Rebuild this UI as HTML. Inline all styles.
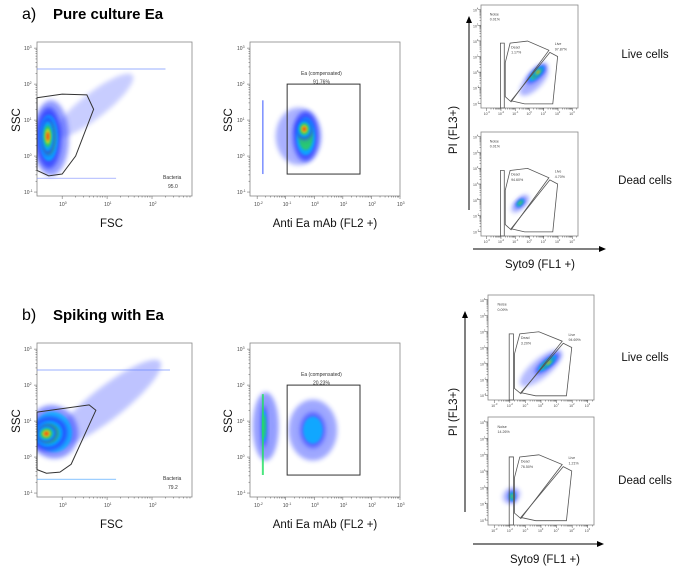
<!DOCTYPE html>
<html><head><meta charset="utf-8">
<style>
html,body{margin:0;padding:0;background:#fff;}
svg{display:block;font-family:"Liberation Sans",sans-serif;}
.ax{font-size:11.5px;fill:#111;}
.gl{font-size:5px;fill:#333;}
.gs{font-size:3.6px;fill:#444;}
</style></head>
<body>
<svg id="fig" width="685" height="568" viewBox="0 0 685 568" xmlns="http://www.w3.org/2000/svg">
<defs>
<filter id="bl" x="-50%" y="-50%" width="200%" height="200%"><feGaussianBlur stdDeviation="1.4"/></filter>
<filter id="bl2" x="-50%" y="-50%" width="200%" height="200%"><feGaussianBlur stdDeviation="2.5"/></filter>
<marker id="arr" markerWidth="8" markerHeight="8" refX="6" refY="4" orient="auto"><path d="M0,1 L7,4 L0,7 z" fill="#000"/></marker>
</defs>
<g><text x="22" y="19" font-size="16">a)</text><text x="53" y="19" font-size="15" font-weight="bold">Pure culture Ea</text></g>
<g><text x="22" y="320" font-size="16">b)</text><text x="53" y="320" font-size="15" font-weight="bold">Spiking with Ea</text></g>
<g id="layer"></g>
</svg>
<script>
// ---- data (log10 units) ----
// clusters: [cx, cy, rxDecades, ryDecades, angleDeg, level(1-5), outerOpacity]
const a1Clusters=[[0.7,1.4,1.1,0.35,-38,1,0.25],[-0.25,0.5,0.4,1.05,0,1,0.5],[-0.3,0.5,0.28,0.85,0,3,0.8],[-0.32,0.55,0.16,0.55,0,5,0.8]];
const a2Clusters=[[-0.55,0.55,0.8,0.8,0,1,0.4],[-0.3,0.55,0.45,0.7,0,3,0.8],[-0.35,0.75,0.3,0.3,0,5,0.8]];
const b1Clusters=[[1.0,1.5,1.5,0.45,-38,1,0.3],[-0.2,0.7,0.55,0.75,-20,2,0.55],[-0.3,0.65,0.42,0.48,-20,3,0.8],[-0.35,0.65,0.24,0.26,-15,5,0.8]];
const b2Clusters=[[-1.7,0.85,0.45,0.95,0,1,0.5],[-0.05,0.75,0.85,0.85,0,1,0.45],[-0.05,0.75,0.45,0.5,0,2,0.6],[-1.75,0.85,0.1,0.6,0,3,0.8]];
const ra1Clusters=[[0.3,-0.6,1.3,0.5,-45,1,0.4],[0.5,-0.1,0.95,0.32,-45,3,0.8],[0.6,0.0,0.45,0.18,-45,5,0.8]];
const ra2Clusters=[[-0.65,-0.25,0.8,0.32,-45,1,0.4],[-0.65,-0.2,0.45,0.2,-45,3,0.8],[-0.65,-0.2,0.18,0.1,-45,5,0.8]];
const rb1Clusters=[[0.0,-0.3,1.7,0.6,-40,1,0.35],[0.4,0.0,1.0,0.3,-40,3,0.8],[0.5,0.05,0.45,0.16,-40,5,0.8]];
const rb2Clusters=[[-1.9,-0.5,0.6,0.45,-30,1,0.35],[-1.85,-0.55,0.25,0.38,0,3,0.8],[-1.85,-0.55,0.1,0.18,0,5,0.8]];
const leftXTicks=[0,1,2]; const leftYTicks=[-1,0,1,2,3];
const midXTicks=[-2,-1,0,1,2,3];
const rightXTicks=[-3,-2,-1,0,1,2,3]; const rightYTicks=[-2,-1,0,1,2,3,4];
const gateA1=[[-0.56,1.62],[0.0,1.72],[0.55,1.7],[0.7,1.3],[0.3,0.0],[0.0,-0.5],[-0.3,-0.55],[-0.56,-0.4]];
const gateB1=[[-0.56,1.25],[0.6,1.45],[0.75,1.3],[0.2,-0.2],[-0.05,-0.42],[-0.35,-0.45],[-0.56,-0.35]];
const gateA2=[-0.95,2.0,1.6,-0.5]; const gateB2=[-0.95,2.0,1.6,-0.5];
// right-panel gates (relative box fractions: shape geometry)
const noiseGate=[[0.20,0.37],[0.24,0.37],[0.24,1.0],[0.20,1.0]];
const deadGate=[[0.25,0.56],[0.30,0.37],[0.48,0.35],[0.70,0.44],[0.31,0.94],[0.25,0.89]];
const liveGate=[[0.31,0.93],[0.71,0.46],[0.79,0.50],[0.74,0.96],[0.45,0.96]];

const NS="http://www.w3.org/2000/svg";
const layer=document.getElementById('layer');
function mk(tag,attrs,parent){const e=document.createElementNS(NS,tag);for(const k in attrs)e.setAttribute(k,attrs[k]);(parent||layer).appendChild(e);return e;}
const COLORS=['#2a3cff','#00b8ff','#30d050','#f0e010','#ff2a10'];
const SCALES=[1,0.75,0.55,0.38,0.22];

function panel(name,p,clusters,xt,yt,small){
  const g=mk('g',{});
  
  
  const sx=v=>p.x+(v-p.xr[0])/(p.xr[1]-p.xr[0])*p.w;
  const sy=v=>p.y+p.h-(v-p.yr[0])/(p.yr[1]-p.yr[0])*p.h;
  const dx=p.w/(p.xr[1]-p.xr[0]), dy=p.h/(p.yr[1]-p.yr[0]);
  const clip='c'+name; const cp=mk('clipPath',{id:clip},g); mk('rect',{x:p.x,y:p.y,width:p.w,height:p.h},cp);
  const dg=mk('g',{'clip-path':'url(#'+clip+')'},g);
  
  
  clusters.forEach(c=>{
    const cx=sx(c[0]),cy=sy(c[1]);
    for(let l=0;l<c[5];l++){
      const s=SCALES[l];
      const el=mk('ellipse',{cx:cx,cy:cy,rx:c[2]*dx*s,ry:c[3]*dy*s,fill:COLORS[l],opacity:l==0?c[6]:0.8,transform:'rotate('+c[4]+' '+cx+' '+cy+')',filter:l==0?'url(#bl2)':'url(#bl)'},dg);
      
      
    }
  });
  const box=mk('rect',{x:p.x,y:p.y,width:p.w,height:p.h,fill:'none',stroke:'#888','stroke-width':0.8},g);
  
  
  const fs=small?3.5:5;
  xt.forEach(t=>{const X=sx(t);
    for(let m=1;m<10;m++){const xx=sx(t+Math.log10(m));if(xx>=p.x&&xx<=p.x+p.w)mk('line',{x1:xx,x2:xx,y1:p.y+p.h,y2:p.y+p.h+(m==1?3:1.5),stroke:'#555','stroke-width':0.5},g);}
    const tx=mk('text',{x:X-3,y:p.y+p.h+(small?7:10),'font-size':fs,fill:'#444'},g);
    
    
    tx.innerHTML='10<tspan dy="-2" font-size="'+(fs*0.7)+'">'+t+'</tspan>';
  });
  yt.forEach(t=>{const Y=sy(t);
    for(let m=1;m<10;m++){const yy=sy(t+Math.log10(m));if(yy>=p.y&&yy<=p.y+p.h)mk('line',{x1:p.x,x2:p.x-(m==1?3:1.5),y1:yy,y2:yy,stroke:'#555','stroke-width':0.5},g);}
    const tx=mk('text',{x:p.x-(small?8:13),y:Y+2,'font-size':fs,fill:'#444'},g);
    
    
    tx.innerHTML='10<tspan dy="-2" font-size="'+(fs*0.7)+'">'+t+'</tspan>';
  });
  return {sx,sy,g};
}
function poly(P,pts,name,g){const el=mk('polygon',{points:pts.map(q=>P.sx(q[0])+','+P.sy(q[1])).join(' '),fill:'none',stroke:'#333','stroke-width':1},g);
  }
function rpoly(p,pts,name,g){const el=mk('polygon',{points:pts.map(q=>(p.x+q[0]*p.w)+','+(p.y+q[1]*p.h)).join(' '),fill:'none',stroke:'#555','stroke-width':0.8},g);
  }
function txt(x,y,s,cls,name,extra){const t=mk('text',Object.assign({x:x,y:y,class:cls},extra||{}));t.textContent=s;
  return t;}
function lineAt(P,x1,x2,yv,col,name,g){const l=mk('line',{x1:P.sx(x1),x2:P.sx(x2),y1:P.sy(yv),y2:P.sy(yv),stroke:col,'stroke-width':1.2,opacity:0.5},g);
  }

function leftRow(off,cl1,cl2,gate1,gate2,bact,eaPct,b){
  const p1={x:37,y:42+off,w:155,h:154,xr:[-0.56,2.89],yr:[-1.11,3.17]};
  const P1=panel('fsc-ssc-plot'+(b?'-b':'-a'),p1,cl1,leftXTicks,leftYTicks);
  lineAt(P1,-0.56,b?2.4:2.3,2.42,'#6080ff','saturation-line-top',P1.g);
  lineAt(P1,-0.56,1.2,-0.62,b?'#40a0ff':'#8090ff','saturation-line-bottom',P1.g);
  poly(P1,gate1,'bacteria-gate',P1.g);
  txt(163,off+179,'Bacteria','gl','gate-label-bacteria');
  txt(168,off+188,bact,'gl','gate-value-bacteria');
  txt(100,off+227,'FSC','ax','x-axis-title-fsc');
  txt(20,off+120,'SSC','ax','y-axis-title-ssc',{transform:'rotate(-90 20 '+(off+120)+')','text-anchor':'middle'});
  const p2={x:250,y:42+off,w:150,h:154,xr:[-2.25,3.0],yr:[-1.11,3.17]};
  const P2=panel('anti-ea-plot'+(b?'-b':'-a'),p2,cl2,midXTicks,leftYTicks);
  const vl=mk('line',{x1:P2.sx(-1.8),x2:P2.sx(-1.8),y1:P2.sy(b?1.75:1.55),y2:P2.sy(-0.5),stroke:b?'#20e060':'#3050ff','stroke-width':b?2:1.2,opacity:0.8},P2.g);
  
  const r=mk('rect',{x:P2.sx(gate2[0]),y:P2.sy(gate2[1]),width:P2.sx(gate2[2])-P2.sx(gate2[0]),height:P2.sy(gate2[3])-P2.sy(gate2[1]),fill:'none',stroke:'#333','stroke-width':1},P2.g);
  
  txt(P2.sx(0.25),P2.sy(2.25),'Ea (compensated)','gl','gate-label-ea',{'text-anchor':'middle'});
  txt(P2.sx(0.25),P2.sy(2.02),eaPct,'gl','gate-value-ea',{'text-anchor':'middle'});
  txt(325,off+227,'Anti Ea mAb (FL2 +)','ax','x-axis-title-anti-ea',{'text-anchor':'middle'});
  txt(232,off+120,'SSC','ax','y-axis-title-ssc',{transform:'rotate(-90 232 '+(off+120)+')','text-anchor':'middle'});
}
leftRow(0,a1Clusters,a2Clusters,gateA1,gateA2,'95.0','91.76%',false);
leftRow(301,b1Clusters,b2Clusters,gateB1,gateB2,'79.2','20.23%',true);

function rightPanel(name,p,cl,labels){
  const P=panel(name,p,cl,rightXTicks,rightYTicks,true);
  rpoly(p,noiseGate,'noise-gate',P.g);rpoly(p,deadGate,'dead-gate',P.g);rpoly(p,liveGate,'live-gate',P.g);
  txt(p.x+p.w*0.09,p.y+p.h*0.1,'Noise','gs','noise-label');txt(p.x+p.w*0.09,p.y+p.h*0.15,labels[0],'gs','noise-value');
  txt(p.x+p.w*0.31,p.y+p.h*0.42,'Dead','gs','dead-label');txt(p.x+p.w*0.31,p.y+p.h*0.47,labels[1],'gs','dead-value');
  txt(p.x+p.w*0.76,p.y+p.h*0.39,'Live','gs','live-label');txt(p.x+p.w*0.76,p.y+p.h*0.44,labels[2],'gs','live-value');
}
const rr=[-3.4,3.4], ry=[-2.3,4.3];
rightPanel('live-cells-plot-a',{x:481,y:5,w:97,h:103,xr:rr,yr:ry},ra1Clusters,['0.01%','1.17%','97.87%']);
rightPanel('dead-cells-plot-a',{x:481,y:132,w:97,h:104,xr:rr,yr:ry},ra2Clusters,['0.01%','94.60%','4.70%']);
rightPanel('live-cells-plot-b',{x:488,y:295,w:106,h:105,xr:rr,yr:ry},rb1Clusters,['0.09%','3.20%','94.69%']);
rightPanel('dead-cells-plot-b',{x:488,y:417,w:106,h:108,xr:rr,yr:ry},rb2Clusters,['14.26%','76.50%','1.21%']);

function arrows(vx,vy1,vy2,hy,hx1,hx2,pil,syX,syY,live,dead){
  const a=mk('line',{x1:vx,y1:vy1,x2:vx,y2:vy2,stroke:'#000','stroke-width':1,'marker-end':'url(#arr)'});
  
  const h=mk('line',{x1:hx1,y1:hy,x2:hx2,y2:hy,stroke:'#000','stroke-width':1,'marker-end':'url(#arr)'});
  
  txt(pil[0],pil[1],'PI (FL3+)','ax','y-axis-title-pi',{transform:'rotate(-90 '+pil[0]+' '+pil[1]+')','text-anchor':'middle'});
  txt(syX,syY,'Syto9 (FL1 +)','ax','x-axis-title-syto9',{'text-anchor':'middle'});
  txt(645,live,'Live cells','ax','live-cells-label',{'text-anchor':'middle','font-size':15.5});
  txt(645,dead,'Dead cells','ax','dead-cells-label',{'text-anchor':'middle','font-size':15.5});
}
arrows(469,210,17,249,473,605,[457,130],540,268,58,184);
arrows(465,512,312,544,473,603,[457,412],545,563,361,484);
</script>
</body></html>
